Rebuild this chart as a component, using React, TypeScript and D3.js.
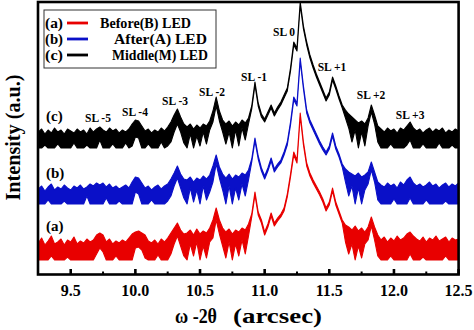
import React from "react";
import * as d3 from "d3";

// Sampling grid (arcsec): xStart + i * xStep
const xStart = 9.25;
const xStep = 0.025;

// Heights (a.u.) above each trace's own baseline: upper and lower edge of the noisy trace
const blackTop = [
  16, 19, 14, 18, 15, 20, 16, 18, 14, 19,
  17, 15, 19, 16, 18, 14, 20, 16, 19, 21,
  18, 16, 20, 17, 19, 15, 18, 16, 19, 24,
  28, 27, 22, 17, 19, 15, 18, 16, 20, 17,
  21, 26, 33, 39, 31, 24, 21, 24, 19, 23,
  20, 24, 22, 27, 37, 51, 37, 28, 24, 27,
  22, 26, 23, 28, 25, 30, 42, 66, 45, 34,
  29, 36, 43, 35, 41, 46, 53, 60, 80, 106,
  100, 146, 122, 106, 93, 83, 74, 66, 58, 50,
  56, 71, 62, 52, 43, 38, 34, 31, 28, 25,
  27, 24, 30, 43, 33, 22, 19, 16, 20, 17,
  19, 15, 20, 18, 22, 26, 20, 17, 19, 15,
  18, 20, 16, 19, 17, 20, 15, 18, 16, 19, 17,
];
const blackBottom = [
  0, 0, 3, 0, 0, 0, 4, 0, 0, 0,
  0, 5, 0, 0, 0, 3, 0, 0, 0, 8,
  0, 0, 0, 4, 0, 0, 0, 5, 0, 2,
  11, 10, 0, 0, 4, 0, 0, 0, 6, 0,
  2, 6, 16, 24, 16, 5, 0, 14, 0, 12,
  2, 16, 4, 18, 26, 42, 27, 16, 4, 16,
  0, 18, 2, 20, 8, 24, 39, 63, 42, 31,
  26, 33, 40, 32, 38, 43, 50, 57, 77, 103,
  97, 143, 119, 103, 90, 80, 71, 63, 55, 47,
  53, 68, 59, 49, 40, 30, 20, 6, 18, 0,
  16, 2, 22, 36, 24, 6, 0, 0, 0, 4,
  0, 0, 0, 0, 3, 8, 0, 0, 0, 4,
  0, 0, 0, 0, 5, 0, 0, 0, 3, 0, 0,
];
const blueTop = [
  15, 18, 13, 17, 20, 14, 17, 15, 19, 16,
  14, 18, 16, 19, 15, 17, 20, 18, 21, 19,
  21, 17, 20, 16, 18, 15, 17, 19, 16, 22,
  27, 26, 21, 16, 18, 14, 17, 19, 15, 18,
  20, 25, 31, 38, 30, 25, 24, 27, 22, 26,
  24, 28, 25, 29, 38, 49, 37, 30, 26, 30,
  25, 29, 27, 31, 29, 34, 45, 66, 48, 36,
  28, 36, 46, 35, 40, 44, 52, 62, 82, 107,
  101, 146, 118, 94, 84, 77, 70, 63, 57, 52,
  58, 71, 58, 50, 40, 35, 32, 30, 28, 31,
  27, 29, 32, 42, 32, 22, 19, 17, 21, 18,
  20, 16, 22, 19, 24, 27, 21, 18, 20, 17,
  19, 22, 18, 20, 16, 19, 21, 17, 20, 18, 21,
];
const blueBottom = [
  0, 0, 0, 4, 0, 0, 0, 0, 3, 0,
  0, 0, 0, 0, 0, 8, 0, 0, 0, 0,
  0, 6, 0, 0, 0, 3, 0, 0, 0, 0,
  12, 10, 0, 0, 0, 4, 0, 0, 0, 0,
  3, 8, 18, 26, 16, 6, 0, 16, 2, 14,
  0, 18, 4, 12, 22, 40, 26, 14, 0, 18,
  0, 16, 4, 20, 8, 24, 42, 63, 45, 33,
  25, 33, 43, 32, 37, 41, 49, 59, 79, 104,
  98, 143, 115, 91, 81, 74, 67, 60, 54, 49,
  55, 68, 55, 47, 37, 22, 8, 18, 0, 16,
  0, 14, 20, 34, 22, 4, 0, 0, 0, 0,
  5, 0, 0, 0, 0, 6, 0, 0, 0, 0,
  4, 0, 0, 0, 0, 0, 3, 0, 0, 0, 0,
];
const redTop = [
  17, 22, 15, 19, 24, 16, 18, 21, 15, 20,
  18, 23, 16, 19, 17, 21, 18, 20, 25, 27,
  25, 18, 21, 16, 19, 17, 20, 18, 22, 26,
  28, 29, 27, 25, 19, 17, 20, 16, 21, 18,
  22, 27, 32, 37, 30, 26, 27, 30, 25, 31,
  26, 29, 27, 32, 40, 52, 40, 32, 28, 31,
  26, 30, 28, 32, 30, 36, 46, 68, 48, 40,
  28, 36, 47, 37, 42, 46, 52, 66, 86, 108,
  100, 147, 118, 97, 87, 80, 74, 68, 61, 52,
  58, 72, 58, 49, 40, 35, 33, 30, 34, 29,
  32, 28, 33, 43, 33, 25, 20, 23, 18, 22,
  19, 24, 20, 22, 26, 28, 24, 21, 19, 23,
  18, 22, 20, 24, 19, 21, 23, 18, 22, 20, 21,
];
const redBottom = [
  0, 0, 0, 0, 4, 0, 0, 0, 0, 3,
  0, 0, 0, 0, 0, 0, 0, 0, 6, 12,
  8, 0, 0, 0, 4, 0, 0, 0, 0, 0,
  12, 13, 10, 2, 0, 0, 0, 5, 0, 0,
  0, 6, 16, 24, 14, 4, 0, 16, 4, 18,
  0, 14, 2, 18, 22, 40, 26, 14, 2, 18,
  0, 16, 4, 20, 6, 24, 43, 65, 45, 37,
  25, 33, 44, 34, 39, 43, 49, 63, 83, 105,
  97, 144, 115, 94, 84, 77, 71, 65, 58, 49,
  55, 69, 55, 46, 37, 18, 6, 16, 0, 14,
  2, 16, 20, 34, 20, 4, 0, 0, 0, 4,
  0, 0, 0, 0, 0, 6, 0, 0, 0, 3,
  0, 0, 0, 0, 0, 0, 4, 0, 0, 0, 0,
];

// Series: (a) red, (b) blue, (c) black; vertical offset of each trace (a.u.)
const seriesTags = ["(a)", "(b)", "(c)"];
const seriesNames = ["Before(B) LED", "After(A) LED", "Middle(M) LED"];
const seriesColors = ["#e80000", "#0a10c8", "#000000"];
const seriesOffsets = [15, 71, 127];
const seriesTops = [redTop, blueTop, blackTop];
const seriesBottoms = [redBottom, blueBottom, blackBottom];

// Axis ticks
const xTicks = [9.5, 10.0, 10.5, 11.0, 11.5, 12.0, 12.5];
const xTickLabels = ["9.5", "10.0", "10.5", "11.0", "11.5", "12.0", "12.5"];
const xMinorTicks = [9.75, 10.25, 10.75, 11.25, 11.75, 12.25];

// Satellite-peak annotations (arcsec, a.u.)
const peakLabels = ["SL -5", "SL -4", "SL -3", "SL -2", "SL -1", "SL 0", "SL +1", "SL +2", "SL +3"];
const peakLabelX = [9.711, 9.997, 10.307, 10.593, 10.918, 11.15, 11.521, 11.823, 12.125];
const peakLabelY = [157, 163, 174, 183, 198, 243, 208, 180, 160];

// Trace tags inside the plot
const tagX = 9.309;
const tagY = [49, 102, 159];

const FONT = '"Liberation Serif", "Times New Roman", Times, serif';

export default function App() {
  const W = 474;
  const H = 330;
  const L = 38, R = 458.6, T = 2, B = 274.5;
  const x = d3.scaleLinear().domain([9.25, 12.5]).range([38.4, 458.6]);
  const y = d3.scaleLinear().domain([0, 273]).range([275, 2]);

  const areas = seriesTops.map((top, s) => {
    const bottom = seriesBottoms[s];
    const off = seriesOffsets[s];
    const gen = d3
      .area<number>()
      .x((_, i) => x(xStart + i * xStep))
      .y0((_, i) => y(off + bottom[i]))
      .y1((d) => y(off + d))
      .curve(d3.curveLinear);
    return gen(top) || "";
  });

  const txt = { fontFamily: FONT, fontWeight: 700 as const };

  return (
    <svg
      width={W}
      height={H}
      viewBox={`0 0 ${W} ${H}`}
      style={{ position: "absolute", left: 0, top: 0, display: "block", background: "#fff", fontFamily: FONT, fontWeight: 700 }}
    >
      <defs>
        <clipPath id="plotClip">
          <rect x={L} y={T} width={R - L} height={B - T} />
        </clipPath>
      </defs>
      <rect x={0} y={0} width={W} height={H} fill="#fff" />

      <g clipPath="url(#plotClip)">
        {areas.map((d, s) => (
          <path
            key={s}
            d={d}
            fill={seriesColors[s]}
            stroke={seriesColors[s]}
            strokeWidth={1.1}
            strokeLinejoin="round"
          />
        ))}
      </g>

      {/* frame */}
      <rect x={L} y={T} width={R - L} height={B - T} fill="none" stroke="#000" strokeWidth={2.6} />

      {/* ticks (inward) */}
      {xTicks.map((t) => (
        <line key={"M" + t} x1={x(t)} x2={x(t)} y1={B} y2={B - 5.5} stroke="#000" strokeWidth={2.6} />
      ))}
      {xMinorTicks.map((t) => (
        <line key={"m" + t} x1={x(t)} x2={x(t)} y1={B} y2={B - 3} stroke="#000" strokeWidth={2} />
      ))}
      {xTicks.map((t, i) => (
        <text key={"l" + t} x={x(t)} y={296} fontSize={16} textAnchor="middle" fill="#000" style={txt}>
          {xTickLabels[i]}
        </text>
      ))}

      {/* axis titles */}
      <text x={175} y={323} fontSize={22} fill="#000" style={txt} textLength={42} lengthAdjust="spacingAndGlyphs">
        ω -2θ
      </text>
      <text x={233} y={323} fontSize={22} fill="#000" style={txt} textLength={89} lengthAdjust="spacingAndGlyphs">
        (arcsec)
      </text>
      <text
        transform="translate(20,137.5) rotate(-90)"
        fontSize={21}
        textAnchor="middle"
        fill="#000"
        style={txt}
        textLength={126}
        lengthAdjust="spacingAndGlyphs"
      >
        Intensity (a.u.)
      </text>

      {/* peak annotations */}
      {peakLabels.map((lab, i) => (
        <text
          key={lab}
          x={x(peakLabelX[i])}
          y={y(peakLabelY[i]) + 4}
          fontSize={11.5}
          textAnchor="middle"
          fill="#000"
          style={txt}
        >
          {lab}
        </text>
      ))}

      {/* trace tags */}
      {seriesTags.map((tg, s) => (
        <text key={tg} x={x(tagX)} y={y(tagY[s]) + 5} fontSize={15} fill="#000" style={txt}>
          {tg}
        </text>
      ))}

      {/* legend */}
      <rect x={44} y={10} width={172} height={58} fill="#fff" stroke="#333" strokeWidth={1} />
      {seriesNames.map((nm, s) => {
        const cy = 23 + s * 16;
        const tx = [100, 114, 112][s];
        const tl = [91, 93, 96][s];
        return (
          <g key={nm}>
            <text x={45} y={cy + 5} fontSize={15} fill="#000" style={txt} textLength={18} lengthAdjust="spacingAndGlyphs">
              {seriesTags[s]}
            </text>
            <line x1={67} x2={88} y1={cy} y2={cy} stroke={seriesColors[s]} strokeWidth={2.8} />
            <text x={tx} y={cy + 5} fontSize={15} fill="#000" style={txt} textLength={tl} lengthAdjust="spacingAndGlyphs">
              {nm}
            </text>
          </g>
        );
      })}
    </svg>
  );
}
